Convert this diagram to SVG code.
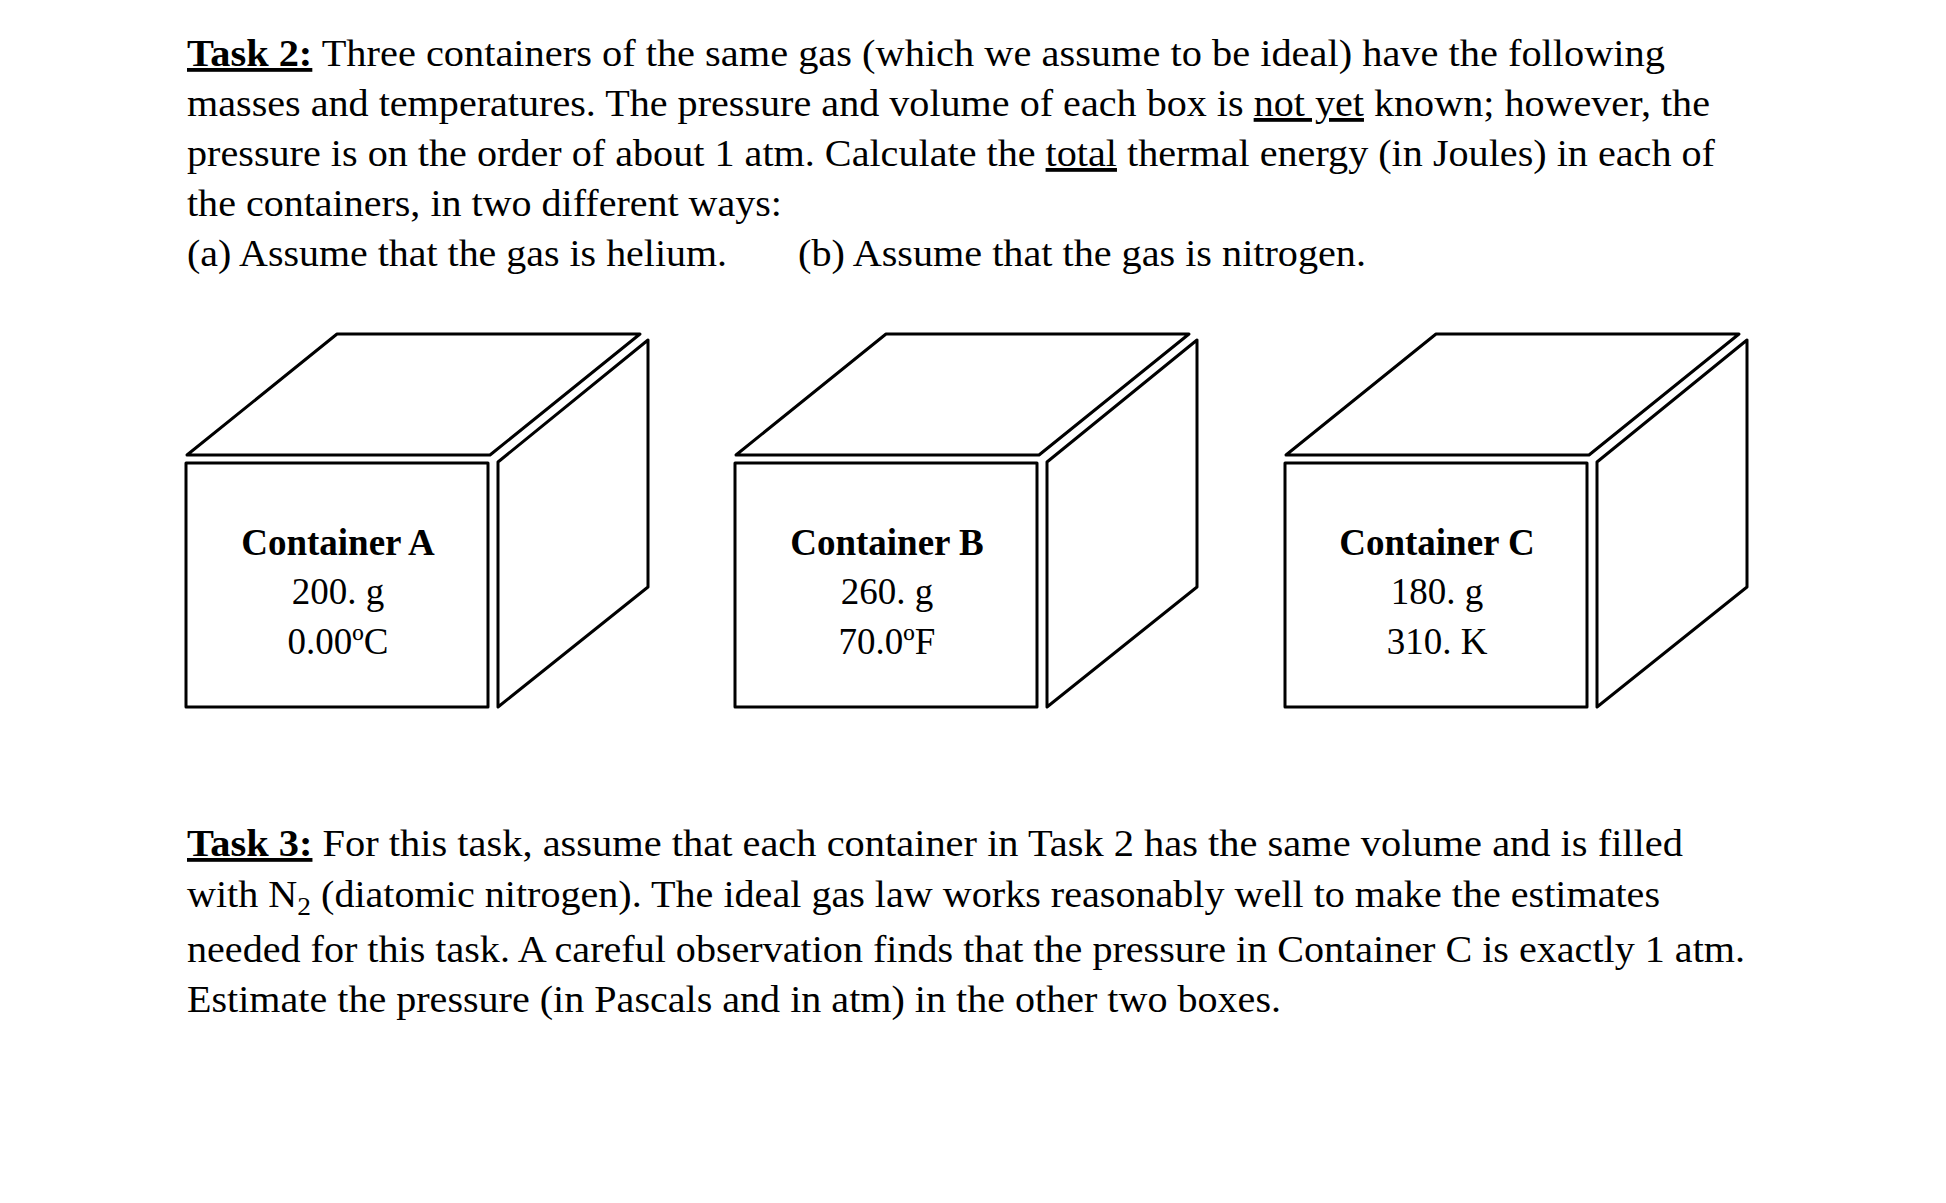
<svg xmlns="http://www.w3.org/2000/svg" width="1946" height="1203" viewBox="0 0 1946 1203">
<style>
text{font-family:"Liberation Serif","Times New Roman",serif;fill:#000}
.p{font-size:38px}
.b{font-weight:bold}
.u{text-decoration:underline}
.lbl{font-size:37px;text-anchor:middle}
.box{fill:none;stroke:#000;stroke-width:3;stroke-linejoin:round;stroke-linecap:round}
</style>
<defs>
<g id="cube">
<rect class="box" x="186" y="463" width="302" height="244"/>
<polygon class="box" points="187,455 337,334 640,334 490,455"/>
<polygon class="box" points="498,462 648,340 648,587 498,707"/>
</g>
</defs>
<rect width="1946" height="1203" fill="#fff"/>
<g id="task2">
<text class="p" x="187" y="66" textLength="1478" lengthAdjust="spacingAndGlyphs"><tspan class="b u">Task 2:</tspan>  Three containers of the same gas (which we assume to be ideal) have the following</text>
<text class="p" x="187" y="116" textLength="1523" lengthAdjust="spacingAndGlyphs">masses and temperatures. The pressure and volume of each box is <tspan class="u">not yet</tspan> known; however, the</text>
<text class="p" x="187" y="166" textLength="1528" lengthAdjust="spacingAndGlyphs">pressure is on the order of about 1 atm. Calculate the <tspan class="u">total</tspan> thermal energy (in Joules) in each of</text>
<text class="p" x="187" y="216" textLength="595" lengthAdjust="spacingAndGlyphs">the containers, in two different ways:</text>
<text class="p" x="187" y="266" textLength="540" lengthAdjust="spacingAndGlyphs">(a) Assume that the gas is helium.</text>
<text class="p" x="798" y="266" textLength="568" lengthAdjust="spacingAndGlyphs">(b) Assume that the gas is nitrogen.</text>
</g>
<g id="containerA">
<use href="#cube"/>
<text class="lbl b" x="338" y="555">Container A</text>
<text class="lbl" x="338" y="604">200. g</text>
<text class="lbl" x="338" y="654">0.00ºC</text>
</g>
<g id="containerB" transform="translate(549,0)">
<use href="#cube"/>
<text class="lbl b" x="338" y="555">Container B</text>
<text class="lbl" x="338" y="604">260. g</text>
<text class="lbl" x="338" y="654">70.0ºF</text>
</g>
<g id="containerC" transform="translate(1099,0)">
<use href="#cube"/>
<text class="lbl b" x="338" y="555">Container C</text>
<text class="lbl" x="338" y="604">180. g</text>
<text class="lbl" x="338" y="654">310. K</text>
</g>
<g id="connectors"/>
<g id="task3">
<text class="p" x="187" y="856" textLength="1496" lengthAdjust="spacingAndGlyphs"><tspan class="b u">Task 3:</tspan>  For this task, assume that each container in Task 2 has the same volume and is filled</text>
<text class="p" x="187" y="907" textLength="1473" lengthAdjust="spacingAndGlyphs">with N<tspan font-size="26" dy="8">2</tspan><tspan dy="-8"> (diatomic nitrogen). The ideal gas law works reasonably well to make the estimates</tspan></text>
<text class="p" x="187" y="962" textLength="1558" lengthAdjust="spacingAndGlyphs">needed for this task. A careful observation finds that the pressure in Container C is exactly 1 atm.</text>
<text class="p" x="187" y="1012" textLength="1094" lengthAdjust="spacingAndGlyphs">Estimate the pressure (in Pascals and in atm) in the other two boxes.</text>
</g>
</svg>
